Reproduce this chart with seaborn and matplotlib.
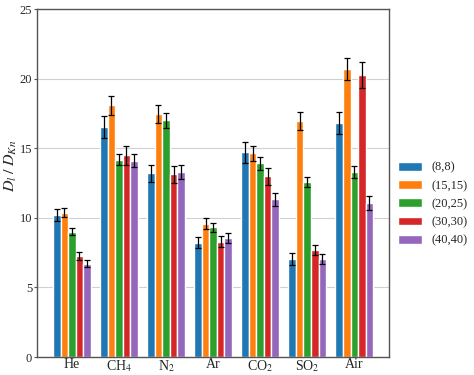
import numpy as np
import pandas as pd
import matplotlib
matplotlib.use('agg')
import matplotlib.pyplot as plt
import seaborn as sns

gases = ["He", "CH$_4$", "N$_2$", "Ar", "CO$_2$", "SO$_2$", "Air"]
configs = ["(8,8)", "(15,15)", "(20,25)", "(30,30)", "(40,40)"]

# mean ratio per config, one value per gas
val_8 = [10.2, 16.55, 13.2, 8.23, 14.71, 7.06, 16.82]
val_15 = [10.39, 18.1, 17.45, 9.6, 14.64, 16.94, 20.7]
val_20 = [9.0, 14.2, 17.03, 9.33, 13.92, 12.6, 13.3]
val_30 = [7.25, 14.5, 13.15, 8.28, 13.0, 7.68, 20.25]
val_40 = [6.7, 14.13, 13.3, 8.57, 11.34, 7.08, 11.08]

err_8 = [0.45, 0.79, 0.62, 0.4, 0.74, 0.43, 0.81]
err_15 = [0.35, 0.67, 0.65, 0.4, 0.57, 0.65, 0.79]
err_20 = [0.25, 0.4, 0.53, 0.33, 0.48, 0.38, 0.45]
err_30 = [0.3, 0.7, 0.62, 0.4, 0.62, 0.38, 0.93]
err_40 = [0.25, 0.5, 0.53, 0.36, 0.45, 0.36, 0.53]

vals = [val_8, val_15, val_20, val_30, val_40]
errs = [err_8, err_15, err_20, err_30, err_40]

rows = []
for c, v in zip(configs, vals):
    for g, y in zip(gases, v):
        rows.append({"gas": g, "config": c, "ratio": y})
df = pd.DataFrame(rows)

sns.set_theme(style="whitegrid")
plt.rcParams['font.family'] = ['Liberation Serif', 'DejaVu Serif']
plt.rcParams['mathtext.fontset'] = 'stix'

fig, ax = plt.subplots(figsize=(4.74, 3.75), dpi=100)
sns.barplot(data=df, x="gas", y="ratio", hue="config", palette="tab10",
            errorbar=None, width=0.8, saturation=1, ax=ax)

# error bars on top of each bar, using the bar positions seaborn made
for cont, e in zip(ax.containers, errs):
    xs = [p.get_x() + p.get_width() / 2 for p in cont.patches]
    ys = [p.get_height() for p in cont.patches]
    ax.errorbar(xs, ys, yerr=e, fmt='none', ecolor='black', elinewidth=0.9,
                capsize=2.5, capthick=0.9)

ax.set_ylim(0, 25)
ax.set_yticks([0, 5, 10, 15, 20, 25])
ax.set_xlabel("")
ax.set_ylabel(r"$D_l\;/\;D_{Kn}$", fontsize=11.5)
ax.yaxis.set_label_coords(-0.052, 0.55)
ax.grid(axis='x', visible=False)
ax.grid(axis='y', color='#d0d0d0', linewidth=0.8)
for s in ax.spines.values():
    s.set_color('#555555')
    s.set_linewidth(1.0)
ax.tick_params(axis='x', labelsize=10, length=0, pad=1)
ax.tick_params(axis='y', labelsize=9, length=2.5, width=0.8, color='#555555',
               left=True, pad=1)

ax.legend(loc='center left', bbox_to_anchor=(1.0, 0.44), frameon=False,
          fontsize=9, handlelength=1.9, handleheight=0.7, labelspacing=0.5,
          borderaxespad=0.3, handletextpad=0.8)

fig.subplots_adjust(left=0.078, right=0.821, top=0.975, bottom=0.048)
fig.savefig("out.png", dpi=100)
